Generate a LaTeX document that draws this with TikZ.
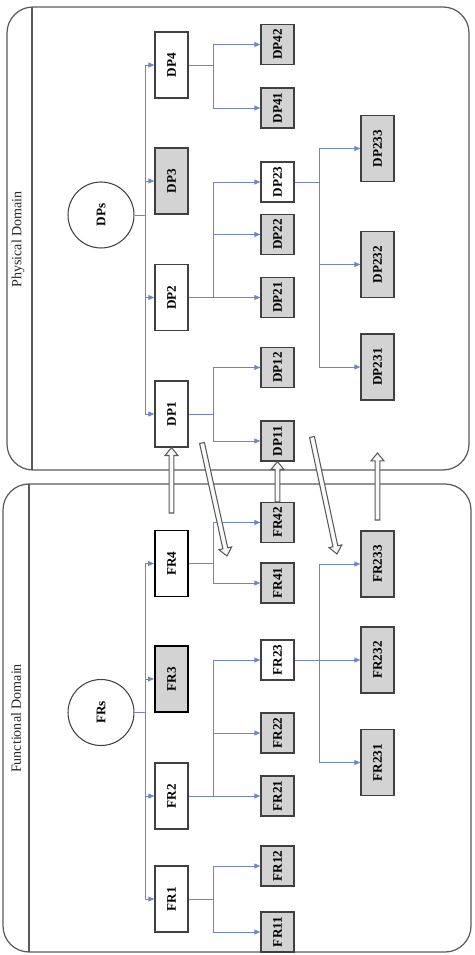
\documentclass[tikz,border=0pt]{standalone}
\usepackage{fontspec}
\setmainfont{Liberation Serif}
\usepackage{graphicx}
\usetikzlibrary{arrows.meta,calc}
\definecolor{linkblue}{RGB}{112,134,196}
\definecolor{boxgray}{RGB}{211,211,211}
\definecolor{edgegray}{RGB}{64,64,64}
\definecolor{panelgray}{RGB}{90,90,90}
\newcommand{\up}[1]{\rotatebox{90}{#1}}

\begin{document}
\begin{tikzpicture}[x=0.02cm,y=-0.02cm,
  box/.style={draw=edgegray,line width=0.7pt,fill=white,minimum width=0.66cm,
    minimum height=1.32cm,inner sep=0pt,font=\fontsize{7.5}{9}\selectfont\bfseries},
  shortbox/.style={minimum height=0.8cm},
  shaded/.style={fill=boxgray},
  heavy/.style={draw=black,line width=1.1pt},
  root/.style={circle,draw=edgegray,line width=0.6pt,minimum size=1.32cm,
    inner sep=0pt,font=\fontsize{7.5}{9}\selectfont\bfseries},
  domainlabel/.style={inner sep=0pt,text=black!85,font=\fontsize{8}{9}\selectfont},
  link/.style={draw=linkblue,line width=0.5pt},
  flow/.style={link,-{Triangle[length=3.4pt,width=2.8pt]}},
  panel/.style={draw=panelgray,line width=0.7pt},
  bigarrow/.style={draw=panelgray,fill=white!96!gray,line width=0.6pt,line join=miter}]
  \useasboundingbox (0,0) rectangle (474,955);

  % domains
  \draw[panel,rounded corners=0.52cm] (7,7) rectangle (469,470);
  \draw[panel] (32,7) -- (32,470);
  \draw[panel,rounded corners=0.52cm] (3,484) rectangle (471,952);
  \draw[panel] (29,484) -- (29,952);
  \node[domainlabel] (phys) at (18,239.5) {\up{Physical Domain}};
  \node[domainlabel] (func) at (16,718.5) {\up{Functional Domain}};

  % physical domain
  \node[root] (DPs) at (101,215) {\up{DPs}};
  \node[box] (DP4) at (171.5,65) {\up{DP4}};
  \node[box,shaded] (DP3) at (171.5,181) {\up{DP3}};
  \node[box] (DP2) at (171.5,297.5) {\up{DP2}};
  \node[box] (DP1) at (171.5,414) {\up{DP1}};
  \node[box,shortbox,shaded] (DP42) at (277.5,44.5) {\up{DP42}};
  \node[box,shortbox,shaded] (DP41) at (277.5,108) {\up{DP41}};
  \node[box,shortbox] (DP23) at (277.5,182) {\up{DP23}};
  \node[box,shortbox,shaded] (DP22) at (277.5,234.5) {\up{DP22}};
  \node[box,shortbox,shaded] (DP21) at (277.5,297.5) {\up{DP21}};
  \node[box,shortbox,shaded] (DP12) at (277.5,367.5) {\up{DP12}};
  \node[box,shortbox,shaded] (DP11) at (277.5,441) {\up{DP11}};
  \node[box,shaded] (DP233) at (377.5,148.5) {\up{DP233}};
  \node[box,shaded] (DP232) at (377.5,264.5) {\up{DP232}};
  \node[box,shaded] (DP231) at (377.5,367) {\up{DP231}};

  \coordinate (dpj) at (145,215);
  \coordinate (dp4j) at (213,65);
  \coordinate (dp2j) at (213,297.5);
  \coordinate (dp1j) at (213,414);
  \coordinate (dp23j) at (319,182);
  \draw[link] (DPs) -- (dpj);
  \foreach \n in {DP1,DP2,DP3,DP4}
    \draw[flow] (dpj) |- (\n.west);
  \draw[link] (DP4) -- (dp4j);
  \foreach \n in {DP41,DP42}
    \draw[flow] (dp4j) |- (\n.west);
  \draw[link] (DP2) -- (dp2j);
  \foreach \n in {DP21,DP22,DP23}
    \draw[flow] (dp2j) |- (\n.west);
  \draw[link] (DP1) -- (dp1j);
  \foreach \n in {DP11,DP12}
    \draw[flow] (dp1j) |- (\n.west);
  \draw[link] (DP23) -- (dp23j);
  \foreach \n in {DP231,DP232,DP233}
    \draw[flow] (dp23j) |- (\n.west);

  % functional domain
  \node[root] (FRs) at (101,712.5) {\up{FRs}};
  \node[box,heavy] (FR4) at (171.5,563.5) {\up{FR4}};
  \node[box,shaded,heavy] (FR3) at (171.5,679) {\up{FR3}};
  \node[box] (FR2) at (171.5,796) {\up{FR2}};
  \node[box] (FR1) at (171.5,899) {\up{FR1}};
  \node[box,shortbox,shaded] (FR42) at (277.5,522.5) {\up{FR42}};
  \node[box,shortbox,shaded] (FR41) at (277.5,583) {\up{FR41}};
  \node[box,shortbox] (FR23) at (277.5,660) {\up{FR23}};
  \node[box,shortbox,shaded] (FR22) at (277.5,733) {\up{FR22}};
  \node[box,shortbox,shaded] (FR21) at (277.5,796) {\up{FR21}};
  \node[box,shortbox,shaded] (FR12) at (277.5,866) {\up{FR12}};
  \node[box,shortbox,shaded] (FR11) at (277.5,932) {\up{FR11}};
  \node[box,shaded] (FR233) at (377.5,564) {\up{FR233}};
  \node[box,shaded] (FR232) at (377.5,660) {\up{FR232}};
  \node[box,shaded] (FR231) at (377.5,762.5) {\up{FR231}};

  \coordinate (frj) at (145,712.5);
  \coordinate (fr4j) at (213,563.5);
  \coordinate (fr2j) at (213,796);
  \coordinate (fr1j) at (213,899);
  \coordinate (fr23j) at (319,660);
  \draw[link] (FRs) -- (frj);
  \foreach \n in {FR1,FR2,FR3,FR4}
    \draw[flow] (frj) |- (\n.west);
  \draw[link] (FR4) -- (fr4j);
  \foreach \n in {FR41,FR42}
    \draw[flow] (fr4j) |- (\n.west);
  \draw[link] (FR2) -- (fr2j);
  \foreach \n in {FR21,FR22,FR23}
    \draw[flow] (fr2j) |- (\n.west);
  \draw[link] (FR1) -- (fr1j);
  \foreach \n in {FR11,FR12}
    \draw[flow] (fr1j) |- (\n.west);
  \draw[link] (FR23) -- (fr23j);
  \foreach \n in {FR231,FR232,FR233}
    \draw[flow] (fr23j) |- (\n.west);

  % zigzag arrows between the domains
  \coordinate (z1) at (171.5,513);
  \coordinate (z2s) at (202,443);
  \coordinate (z2e) at (227,556);
  \coordinate (z4s) at (312,437);
  \coordinate (z4e) at (337,554);
  \coordinate (z5s) at (377.5,520);
  \coordinate (z5e) at (377.5,453);
  \foreach \s/\e in {z1/DP1.south,z2s/z2e,FR42.north/DP11.south,z4s/z4e,z5s/z5e} {
    \coordinate (hb) at ($(\e)!4.5pt!(\s)$);
    \draw[bigarrow] ($(\s)!1.4pt!90:(\e)$) -- ($(hb)!1.4pt!90:(\e)$)
      -- ($(hb)!3.7pt!90:(\e)$) -- (\e) -- ($(hb)!3.7pt!-90:(\e)$)
      -- ($(hb)!1.4pt!-90:(\e)$) -- ($(\s)!1.4pt!-90:(\e)$) -- cycle;
  }
\end{tikzpicture}
\end{document}
